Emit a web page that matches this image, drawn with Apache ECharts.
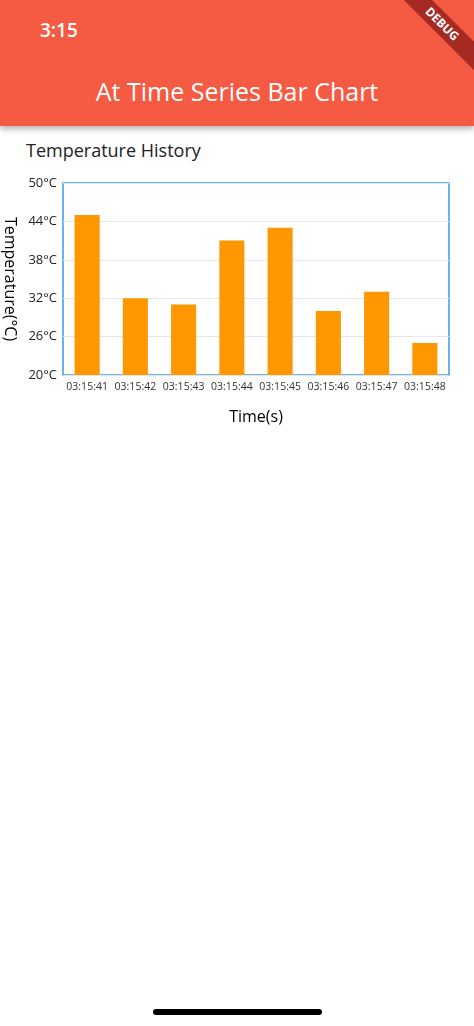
<!DOCTYPE html>
<html><head><meta charset="utf-8">
<script src="https://cdn.jsdelivr.net/npm/echarts@6/dist/echarts.min.js"></script>
<style>
html,body{margin:0;padding:0;width:474px;height:1026px;background:#fff;font-family:"Open Sans","Noto Sans",sans-serif;overflow:hidden;position:relative}
#hdr{position:absolute;left:0;top:0;width:474px;height:126px;background:#F55A42;box-shadow:0 3px 6px rgba(0,0,0,0.3);z-index:2}
#time{position:absolute;left:40px;top:17px;color:#fff;font-size:19px;font-weight:600}
#ttl{position:absolute;left:0;width:474px;top:74px;text-align:center;color:#fff;font-size:25px}
#sub{position:absolute;left:26px;top:138px;color:#222;font-size:18px}
#chart{position:absolute;left:0;top:165px;width:474px;height:270px}
#home{position:absolute;left:153px;top:1009px;width:169px;height:6px;border-radius:3px;background:#000}
#rib{position:absolute;right:-28px;top:14px;width:120px;height:20px;background:#a52a23;transform:rotate(45deg);color:#fff;font-size:12px;font-weight:bold;text-align:center;line-height:20px;z-index:3}
</style></head><body>
<div id="hdr"><div id="time">3:15</div><div id="ttl">At Time Series Bar Chart</div></div>
<div id="rib">DEBUG</div>
<div id="sub">Temperature History</div>
<div id="chart"></div>
<div id="home"></div>
<script>
const categories=["03:15:41","03:15:42","03:15:43","03:15:44","03:15:45","03:15:46","03:15:47","03:15:48"];
const temperatures=[45,32,31,41,43,30,33,25];
const yTicks=[20,26,32,38,44,50];
const c=echarts.init(document.getElementById('chart'));
c.setOption({
 animation:false,
 textStyle:{fontFamily:'"Open Sans","Noto Sans",sans-serif'},
 grid:{left:63,right:25,top:18,bottom:60,containLabel:false,outerBoundsMode:'none',show:true,borderColor:'#3d9be9',borderWidth:1.5},
 xAxis:{type:'category',data:categories,name:'Time(s)',nameLocation:'middle',nameGap:34,
  nameTextStyle:{fontSize:16,color:'#000'},axisLine:{show:false},axisTick:{show:false},
  axisLabel:{fontSize:10.5,color:'#333',margin:7,interval:0}},
 yAxis:{type:'value',min:20,max:50,interval:6,name:'Temperature(°C)',nameLocation:'middle',nameGap:42,nameRotate:-90,
  nameTextStyle:{fontSize:16,color:'#000'},axisLine:{show:false},axisTick:{show:false},
  axisLabel:{fontSize:13,color:'#222',margin:6,formatter:v=>yTicks.includes(v)?v+'°C':''},
  splitLine:{lineStyle:{color:'#e6e6e6'}}},
 series:[{type:'bar',data:temperatures,barWidth:'52%',itemStyle:{color:'#FF9800'}}]
});
</script></body></html>
